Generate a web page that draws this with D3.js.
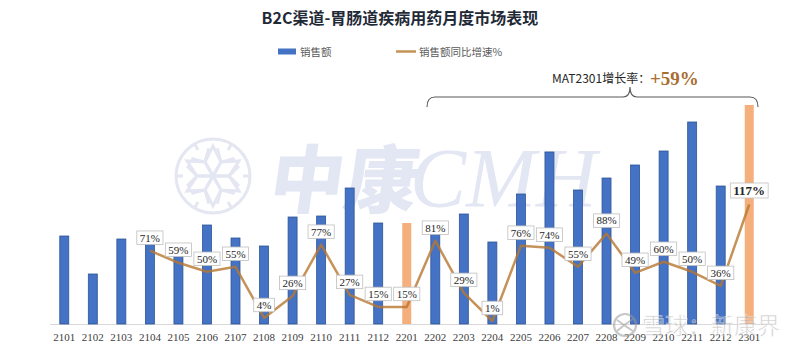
<!DOCTYPE html>
<html><head><meta charset="utf-8">
<script src="https://cdn.jsdelivr.net/npm/d3@7"></script>
<style>
html,body{margin:0;padding:0;background:#fff;}
svg{display:block;}
</style></head>
<body>
<svg id="chart" width="800" height="352"></svg>
<script>
// ---------- data ----------
const categories = ['2101','2102','2103','2104','2105','2106','2107','2108','2109','2110','2111','2112',
                    '2201','2202','2203','2204','2205','2206','2207','2208','2209','2210','2211','2212','2301'];
const sales = [88,50,85,80,74,99,86,78,107,108,136,101,
               101,90,110,82,130,172,134,146,159,173,202,138,219];
const highlightMonths = ['2201','2301'];
const growthMonths = ['2104','2105','2106','2107','2108','2109','2110','2111','2112',
                      '2201','2202','2203','2204','2205','2206','2207','2208','2209','2210','2211','2212','2301'];
const growth = [71,59,50,55,4,26,77,27,15,15,81,29,1,76,74,55,88,49,60,50,36,117];
const titleText = 'B2C渠道-胃肠道疾病用药月度市场表现';
const legendLabels = ['销售额','销售额同比增速%'];
const matLabel = 'MAT2301增长率：';
const matValue = '+59%';

// ---------- layout ----------
const svg = d3.select('#chart');
const left = 50, right = 763.5, base = 324;
const x = d3.scaleBand().domain(categories).range([left, right]).paddingInner(0.685).paddingOuter(0.3425);
const y = d3.scaleLinear().domain([0, 240]).range([base, base - 240]);
const y2 = d3.scaleLinear().domain([0, 120]).range([322, 201.5]);
const cx = c => x(c) + x.bandwidth() / 2;

// ---------- watermark (background) ----------
const wm = svg.append('g');
const lg = wm.append('g').attr('transform', 'translate(213,176)')
  .attr('fill', 'none').attr('stroke', '#E4E6F1').attr('stroke-width', 3);
lg.append('circle').attr('r', 37);
for (let i = 0; i < 6; i++) {
  const a = i * 60;
  lg.append('path').attr('transform', `rotate(${a})`)
    .attr('d', 'M0,0 L8,-14 L0,-30 L-8,-14 Z');
  lg.append('path').attr('transform', `rotate(${a + 30})`)
    .attr('d', 'M0,-16 L10,-26 M0,-16 L-10,-26 M0,-30 L0,-36');
}
wm.append('text').attr('x', 266).attr('y', 207)
  .attr('transform', 'skewX(-8) translate(30,0)')
  .style('font-family', '"Noto Sans CJK SC"').style('font-weight', 900)
  .style('font-size', '74px').attr('fill', '#E3E6F3').text('中康');
wm.append('text').attr('x', 410).attr('y', 207)
  .style('font-family', '"Liberation Serif"').style('font-style', 'italic')
  .style('font-size', '84px').attr('fill', '#E3E6F3').text('CMH');

// ---------- title ----------
svg.append('text').attr('x', 400).attr('y', 24).attr('text-anchor', 'middle')
  .style('font-family', '"Noto Sans CJK SC"').style('font-weight', 700).style('font-size', '16px')
  .attr('fill', '#1F2A37').text(titleText);

// ---------- legend ----------
const leg = svg.append('g').style('font-family', '"Noto Sans CJK SC"').style('font-size', '10.5px').attr('fill', '#595959');
leg.append('rect').attr('x', 278).attr('y', 48.5).attr('width', 18).attr('height', 6).attr('fill', '#4472C4');
leg.append('text').attr('x', 300).attr('y', 55.5).text(legendLabels[0]);
leg.append('line').attr('x1', 396).attr('x2', 416).attr('y1', 51.5).attr('y2', 51.5)
  .attr('stroke', '#C59259').attr('stroke-width', 2.5);
leg.append('text').attr('x', 419).attr('y', 55.5).text(legendLabels[1]);

// ---------- axis ----------
svg.append('line').attr('x1', left).attr('x2', right).attr('y1', base + 0.5).attr('y2', base + 0.5)
  .attr('stroke', '#D9D9D9').attr('stroke-width', 1);
const xAxis = d3.axisBottom(x).tickSize(0).tickPadding(9);
const ax = svg.append('g').attr('transform', `translate(0,${base})`).call(xAxis);
ax.select('.domain').remove();
ax.selectAll('text').style('font-family', '"Liberation Serif"').style('font-size', '11px').attr('fill', '#404040');

// ---------- bars ----------
svg.append('g').selectAll('rect').data(categories).join('rect')
  .attr('x', c => x(c)).attr('width', x.bandwidth())
  .attr('y', (c, i) => y(sales[i])).attr('height', (c, i) => base - y(sales[i]))
  .attr('fill', c => highlightMonths.includes(c) ? '#F4AF7C' : '#4472C4')
  .attr('stroke', c => highlightMonths.includes(c) ? 'none' : '#2F5597')
  .attr('stroke-width', 0.8);

// ---------- growth line ----------
const line = d3.line().x((d, i) => cx(growthMonths[i])).y(d => y2(d));
svg.append('path').datum(growth).attr('d', line)
  .attr('fill', 'none').attr('stroke', '#B7772F').attr('stroke-opacity', 0.8)
  .attr('stroke-width', 2.5).attr('stroke-linejoin', 'round');

// ---------- data labels ----------
const labs = svg.append('g');
growth.forEach((v, i) => {
  const big = i === growth.length - 1;
  const g = labs.append('g').attr('transform', `translate(${cx(growthMonths[i])},${y2(v) - (big ? 14 : 13)})`);
  const r = g.append('rect');
  const t = g.append('text').attr('text-anchor', 'middle').attr('dy', '0.35em')
    .style('font-family', '"Liberation Serif"').style('font-size', big ? '13px' : '11px')
    .style('font-weight', big ? 700 : 400).attr('fill', '#262626').text(v + '%');
  const bb = t.node().getBBox();
  const w = bb.width + (big ? 6 : 6), h = big ? 15 : 13.5;
  r.attr('x', -w / 2).attr('y', -h / 2).attr('width', w).attr('height', h)
    .attr('fill', '#fff').attr('stroke', '#BFBFBF').attr('stroke-width', 0.8);
});

// ---------- MAT annotation ----------
const bl = 427, br = 758, tip = 630, by = 97;
svg.append('path')
  .attr('d', `M${bl},107 Q${bl},${by} ${bl + 8},${by} L${tip - 7},${by} Q${tip},${by} ${tip},87 Q${tip},${by} ${tip + 7},${by} L${br - 8},${by} Q${br},${by} ${br},107`)
  .attr('fill', 'none').attr('stroke', '#595959').attr('stroke-width', 1.1);
svg.append('text').attr('x', 552).attr('y', 83)
  .style('font-family', '"Noto Sans CJK SC"').style('font-size', '12px').attr('fill', '#262626').text(matLabel);
svg.append('text').attr('x', 650).attr('y', 84.5)
  .style('font-family', '"Liberation Serif"').style('font-weight', 700).style('font-size', '19px')
  .attr('fill', '#A86E32').text(matValue);

// ---------- bottom-right watermark ----------
const wm2 = svg.append('g').attr('opacity', 0.55);
wm2.append('circle').attr('cx', 625).attr('cy', 325).attr('r', 11).attr('fill', 'none')
  .attr('stroke', '#9A9A9A').attr('stroke-width', 2.2);
wm2.append('path').attr('d', 'M617,320 Q625,326 633,331 M617,331 Q625,324 633,319').attr('fill', 'none')
  .attr('stroke', '#9A9A9A').attr('stroke-width', 2);
wm2.append('text').attr('x', 642).attr('y', 334)
  .style('font-family', '"Noto Sans CJK SC"').style('font-size', '23px')
  .attr('fill', '#A8A8A8').attr('stroke', '#fff').attr('stroke-width', 0.6).text('雪球：新康界');
</script>
</body></html>
